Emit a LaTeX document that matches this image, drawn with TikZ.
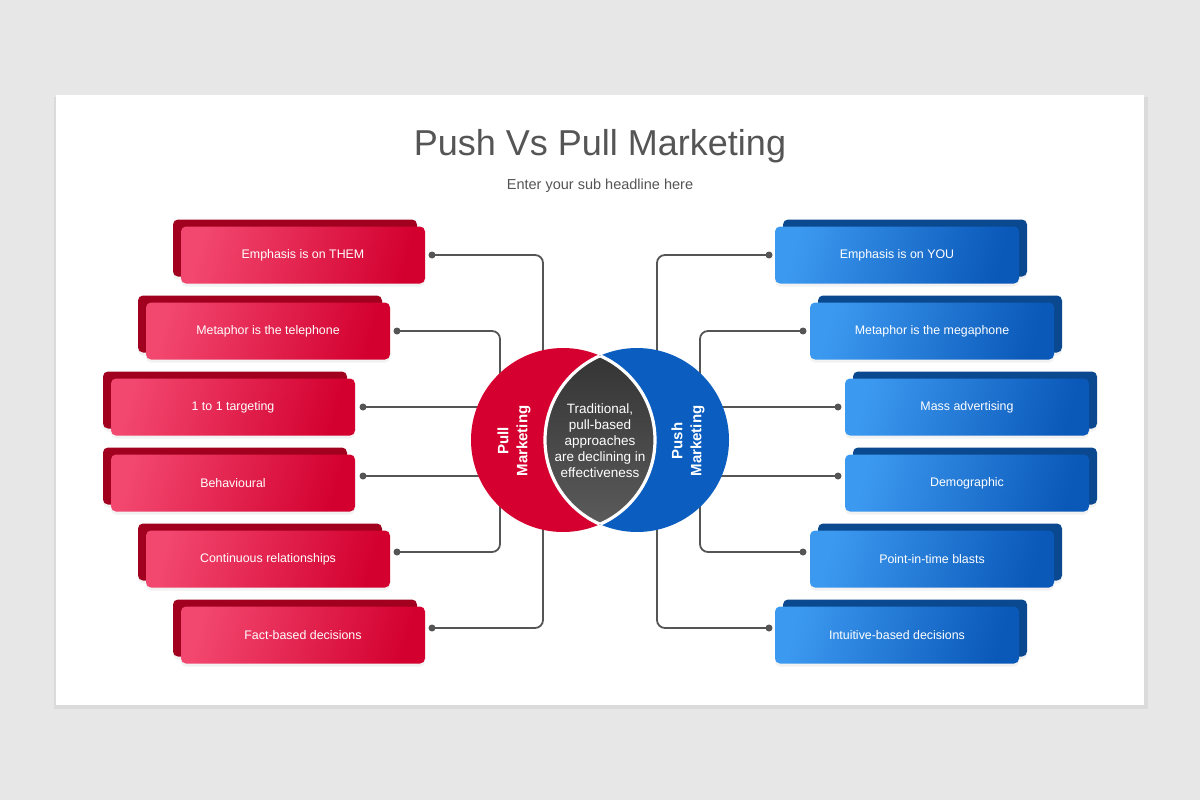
\documentclass[tikz,border=0pt]{standalone}
\usepackage{fontspec}
\setmainfont{Liberation Sans}
\usetikzlibrary{shadows}
\definecolor{bgc}{HTML}{E8E7E8}
\definecolor{redL}{HTML}{F2476F}
\definecolor{redM}{HTML}{E21D4C}
\definecolor{redD}{HTML}{D3002F}
\definecolor{redB}{HTML}{A1001F}
\definecolor{blueL}{HTML}{3C99F0}
\definecolor{blueM}{HTML}{1C74D8}
\definecolor{blueD}{HTML}{0A58B8}
\definecolor{blueB}{HTML}{0A4990}
\definecolor{pullred}{HTML}{D60030}
\definecolor{pushblue}{HTML}{0B5EC0}
\definecolor{lensT}{HTML}{333333}
\definecolor{lensB}{HTML}{5C5C5C}
\definecolor{conncol}{HTML}{555555}
\definecolor{titlegray}{HTML}{555555}
\tikzset{
  boxbase/.style={rectangle, rounded corners=5pt, minimum width=244pt, minimum height=57pt, inner sep=0pt},
  backL/.style={boxbase, fill=redB},
  backR/.style={boxbase, fill=blueB},
  frontL/.style={boxbase, left color=redL, middle color=redM, right color=redD, shading angle=75, text=white, font=\fontsize{12.4}{14}\selectfont},
  frontR/.style={boxbase, left color=blueL, middle color=blueM, right color=blueD, shading angle=75, text=white, font=\fontsize{12.4}{14}\selectfont},
  conn/.style={draw=conncol, line width=1.8pt, rounded corners=8pt},
  dotnode/.style={circle, fill=conncol, inner sep=0pt, minimum size=7pt},
  boxshadow/.style={drop shadow={opacity=0.10, shadow xshift=0pt, shadow yshift=-3pt}},
}
\newcommand\LBox[4]{%
  \node[backL, boxshadow] (#1b) at (#2-8,#3-7) {};
  \node[frontL, boxshadow] (#1) at (#2,#3) {#4};}
\newcommand\RBox[4]{%
  \node[backR, boxshadow] (#1b) at (#2+8,#3-7) {};
  \node[frontR, boxshadow] (#1) at (#2,#3) {#4};}
\begin{document}
\begin{tikzpicture}[x=1pt,y=-1pt]
\useasboundingbox (0,0) rectangle (1200,800);
\fill[bgc] (0,0) rectangle (1200,800);
\fill[black, opacity=0.05] (54,97) rectangle (1148,709);
\fill[white] (56,95) rectangle (1144,705);

% title
\node[anchor=base, text=titlegray, font=\fontsize{36}{40}\selectfont] (title) at (600,155) {Push Vs Pull Marketing};
\node[anchor=base, text=titlegray, font=\fontsize{14.5}{17}\selectfont] (sub) at (600,189) {Enter your sub headline here};

% connectors (drawn under the circles)
\coordinate (cL) at (563,440);
\coordinate (cR) at (637,440);
\node[dotnode] (dL1) at (432,255) {};
\node[dotnode] (dL2) at (397,331) {};
\node[dotnode] (dL3) at (363,407) {};
\node[dotnode] (dL4) at (363,476) {};
\node[dotnode] (dL5) at (397,552) {};
\node[dotnode] (dL6) at (432,628) {};
\node[dotnode] (dR1) at (769,255) {};
\node[dotnode] (dR2) at (803,331) {};
\node[dotnode] (dR3) at (838,407) {};
\node[dotnode] (dR4) at (838,476) {};
\node[dotnode] (dR5) at (803,552) {};
\node[dotnode] (dR6) at (769,628) {};
\coordinate (jL1) at (543,420);
\coordinate (jL2) at (500,420);
\coordinate (jL3) at (500,407);
\coordinate (jL4) at (500,476);
\coordinate (jL5) at (500,460);
\coordinate (jL6) at (543,460);
\coordinate (jR1) at (657,420);
\coordinate (jR2) at (700,420);
\coordinate (jR3) at (700,407);
\coordinate (jR4) at (700,476);
\coordinate (jR5) at (700,460);
\coordinate (jR6) at (657,460);
\draw[conn] (dL1.center) -| (jL1);
\draw[conn] (dL2.center) -| (jL2);
\draw[conn] (dL3.center) -- (jL3);
\draw[conn] (dL4.center) -- (jL4);
\draw[conn] (dL5.center) -| (jL5);
\draw[conn] (dL6.center) -| (jL6);
\draw[conn] (dR1.center) -| (jR1);
\draw[conn] (dR2.center) -| (jR2);
\draw[conn] (dR3.center) -- (jR3);
\draw[conn] (dR4.center) -- (jR4);
\draw[conn] (dR5.center) -| (jR5);
\draw[conn] (dR6.center) -| (jR6);

% boxes
\LBox{L1}{303}{255}{Emphasis is on THEM}
\LBox{L2}{268}{331}{Metaphor is the telephone}
\LBox{L3}{233}{407}{1 to 1 targeting}
\LBox{L4}{233}{483}{Behavioural}
\LBox{L5}{268}{559}{Continuous relationships}
\LBox{L6}{303}{635}{Fact-based decisions}
\RBox{R1}{897}{255}{Emphasis is on YOU}
\RBox{R2}{932}{331}{Metaphor is the megaphone}
\RBox{R3}{967}{407}{Mass advertising}
\RBox{R4}{967}{483}{Demographic}
\RBox{R5}{932}{559}{Point-in-time blasts}
\RBox{R6}{897}{635}{Intuitive-based decisions}

% circles
\node[circle, fill=pullred, minimum size=184pt, inner sep=0pt] (pull) at (cL) {};
\node[circle, fill=pushblue, minimum size=184pt, inner sep=0pt] (push) at (cR) {};
\begin{scope}
  \clip (pull.center) circle[radius=92pt];
  \fill[top color=lensT, bottom color=lensB] (push.center) circle[radius=92pt];
  \draw[white, line width=3.2pt] (push.center) circle[radius=92pt];
\end{scope}
\begin{scope}
  \clip (push.center) circle[radius=92pt];
  \draw[white, line width=3.2pt] (pull.center) circle[radius=92pt];
\end{scope}
\node[rotate=90, align=center, text=white, font=\bfseries\fontsize{15}{19}\selectfont] (pullt) at (514,441) {Pull\\Marketing};
\node[rotate=90, align=center, text=white, font=\bfseries\fontsize{15}{19}\selectfont] (pusht) at (688,441) {Push\\Marketing};
\node[align=center, text=white, font=\fontsize{13.5}{16}\selectfont] (lenst) at (600,441) {Traditional,\\pull-based\\approaches\\are declining in\\effectiveness};
\end{tikzpicture}
\end{document}
